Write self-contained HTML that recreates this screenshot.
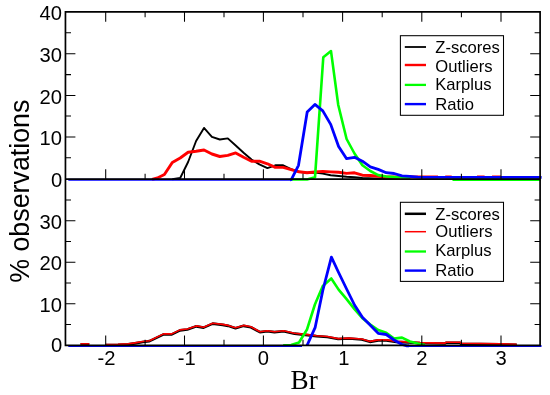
<!DOCTYPE html>
<html><head><meta charset="utf-8"><title>Br distribution</title>
<style>
html,body{margin:0;padding:0;background:#fff}
svg{display:block}
.s{font-family:"Liberation Sans",sans-serif;fill:#000}
.t{font-family:"Liberation Serif",serif;fill:#000}
</style></head><body>
<svg width="550" height="395" viewBox="0 0 550 395">
<rect width="550" height="395" fill="#fff"/>
<g fill="none" stroke-linejoin="round" stroke-linecap="butt">
<polyline points="172.3,179.2 180.2,178.0 188.1,162.0 196.1,141.0 204.0,127.9 211.9,136.8 219.8,139.5 227.8,138.4 235.7,145.5 243.6,152.7 251.5,159.5 259.4,164.4 267.4,168.1 275.3,165.3 283.2,165.3 291.1,169.2 299.0,171.7 307.0,172.7 314.9,172.6 322.8,173.6 330.7,175.2 338.6,176.0 346.6,176.8 354.5,177.3 362.4,178.0 380.0,178.6 400.0,179.0" stroke="#000" stroke-width="1.9"/>
<polyline points="152.0,179.4 157.4,178.0 164.4,174.5 172.3,162.5 180.2,158.0 188.1,152.3 196.1,151.3 204.0,150.0 211.9,154.0 219.8,156.5 227.8,155.4 235.7,152.9 243.6,157.3 251.5,161.2 259.4,161.2 267.4,163.8 275.3,167.4 283.2,167.4 291.1,169.6 299.0,171.8 307.0,172.7 314.9,172.0 322.8,171.4 330.7,171.9 338.6,172.3 346.6,173.4 354.5,172.8 362.4,175.2 370.3,175.5 378.2,176.3 386.2,177.0 394.1,177.0 402.0,177.0 417.8,176.9 438.0,176.9" stroke="#f00" stroke-width="2.9"/>
<path d="M445.2 176.9H451.7M477 176.9H484.6M492 176.9H501" stroke="#f00" stroke-width="2.7"/>
<polyline points="291.5,179.5 307.0,179.5 315.0,177.3 323.3,57.2 331.0,51.1 338.2,104.7 346.6,139.0 354.5,153.5 362.4,165.3 370.3,171.0 378.2,175.1 386.2,176.5 397.7,177.3 410.3,177.6" stroke="#0f0" stroke-width="2.6"/>
<path d="M452.5 179.6H540.5" stroke="#0f0" stroke-width="2.6"/>
<path d="M68.3 179.85H291" stroke="#00f" stroke-width="2.0"/>
<polyline points="290.0,179.9 291.3,179.7 298.5,165.3 307.2,111.9 314.9,104.4 322.8,110.9 330.7,124.4 338.6,146.5 346.6,158.7 354.5,157.3 362.4,161.2 370.3,166.9 378.2,169.4 386.2,172.7 394.1,173.5 402.0,175.9 409.9,176.4 417.8,177.2 425.7,177.4 541.6,177.4" stroke="#00f" stroke-width="2.8"/>
<polyline points="80.5,344.0 89.3,344.0" stroke="#000" stroke-width="2.6" transform="translate(0,0.35)"/>
<polyline points="80.5,344.0 89.3,344.0" stroke="#f00" stroke-width="1.6" transform="translate(0,-0.1)"/>
<polyline points="105.5,344.7 118.0,344.5 128.2,344.0 135.0,343.0 142.7,341.6 149.5,340.8 163.6,334.0 171.8,334.0 180.0,330.0 187.3,329.1 196.4,326.0 203.6,327.3 212.7,323.3 222.7,324.5 228.2,325.5 235.5,327.8 243.6,325.5 250.9,326.9 260.0,331.8 267.3,330.9 274.5,331.8 283.6,330.9 294.5,333.3 305.5,334.5 316.4,335.8 327.3,336.6 338.2,338.7 349.0,338.2 361.8,339.1 370.0,341.5 378.2,340.0 386.4,340.0 396.4,341.5 420.0,342.7 445.0,343.2 446.0,342.4 460.0,342.4 461.0,343.4 500.0,344.0 516.7,344.4" stroke="#000" stroke-width="2.6" transform="translate(0,0.35)"/>
<polyline points="105.5,344.7 118.0,344.5 128.2,344.0 135.0,343.0 142.7,341.6 149.5,340.8 163.6,334.0 171.8,334.0 180.0,330.0 187.3,329.1 196.4,326.0 203.6,327.3 212.7,323.3 222.7,324.5 228.2,325.5 235.5,327.8 243.6,325.5 250.9,326.9 260.0,331.8 267.3,330.9 274.5,331.8 283.6,330.9 294.5,333.3 305.5,334.5 316.4,335.8 327.3,336.6 338.2,338.7 349.0,338.2 361.8,339.1 370.0,341.5 378.2,340.0 386.4,340.0 396.4,341.5 420.0,342.7 445.0,343.2 446.0,342.4 460.0,342.4 461.0,343.4 500.0,344.0 516.7,344.4" stroke="#f00" stroke-width="1.6" transform="translate(0,-0.1)"/>
<polyline points="283.2,345.4 291.1,345.0 299.0,342.5 307.0,329.5 314.9,304.5 322.8,286.0 331.3,278.5 338.6,289.6 346.6,299.1 354.5,309.1 362.4,318.2 370.3,324.5 378.2,330.0 386.2,332.7 394.1,338.6 402.0,337.6 409.9,341.5 417.8,343.6 425.0,345.0" stroke="#0f0" stroke-width="2.6"/>
<path d="M68.3 345.9H302M408 345.9H541.5" stroke="#00f" stroke-width="2.0"/>
<polyline points="307.0,345.5 315.2,327.3 322.8,290.5 331.4,257.2 338.6,272.5 346.6,289.0 354.5,305.0 362.4,317.3 370.3,325.2 378.2,333.3 386.2,334.5 394.1,340.0 402.0,344.5 407.0,345.9 409.0,345.9" stroke="#00f" stroke-width="2.8"/>
</g>
<g stroke="#000" fill="none">
<path d="M65.45 11.85H540.10V345.30H65.45ZM65.45 179.20H540.10" stroke-width="1.7" stroke-linejoin="miter"/>
<path d="M105.7 11.8v9.9M105.7 179.2v-9.9M145.1 11.8v5.5M145.1 179.2v-5.5M184.5 11.8v9.9M184.5 179.2v-9.9M224.0 11.8v5.5M224.0 179.2v-5.5M263.4 11.8v9.9M263.4 179.2v-9.9M303.0 11.8v5.5M303.0 179.2v-5.5M342.6 11.8v9.9M342.6 179.2v-9.9M382.2 11.8v5.5M382.2 179.2v-5.5M421.8 11.8v9.9M421.8 179.2v-9.9M461.4 11.8v5.5M461.4 179.2v-5.5M501.0 11.8v9.9M501.0 179.2v-9.9M65.5 157.8h5.5M540.1 157.8h-5.5M65.5 136.9h9.9M540.1 136.9h-9.9M65.5 115.9h5.5M540.1 115.9h-5.5M65.5 95.5h9.9M540.1 95.5h-9.9M65.5 74.6h5.5M540.1 74.6h-5.5M65.5 53.7h9.9M540.1 53.7h-9.9M65.5 32.8h5.5M540.1 32.8h-5.5M105.7 345.3v-9.9M145.1 345.3v-5.5M184.5 345.3v-9.9M224.0 345.3v-5.5M263.4 345.3v-9.9M303.0 345.3v-5.5M342.6 345.3v-9.9M382.2 345.3v-5.5M421.8 345.3v-9.9M461.4 345.3v-5.5M501.0 345.3v-9.9M65.5 324.5h5.5M540.1 324.5h-5.5M65.5 303.8h9.9M540.1 303.8h-9.9M65.5 283.0h5.5M540.1 283.0h-5.5M65.5 262.2h9.9M540.1 262.2h-9.9M65.5 241.5h5.5M540.1 241.5h-5.5M65.5 220.7h9.9M540.1 220.7h-9.9M65.5 200.0h5.5M540.1 200.0h-5.5" stroke-width="1.05"/>
</g>
<rect x="400.4" y="35.7" width="103.1" height="79.6" fill="#fff" stroke="#000" stroke-width="1.05"/>
<line x1="404.8" x2="426.0" y1="47.0" y2="47.0" stroke="#000" stroke-width="1.8"/>
<text x="435.3" y="52.7" font-size="16.6" class="s">Z-scores</text>
<line x1="404.8" x2="426.0" y1="65.0" y2="65.0" stroke="#f00" stroke-width="2.4"/>
<text x="435.3" y="72.0" font-size="16.6" class="s">Outliers</text>
<line x1="404.8" x2="426.0" y1="84.9" y2="84.9" stroke="#0f0" stroke-width="2.3"/>
<text x="435.3" y="89.7" font-size="16.6" class="s">Karplus</text>
<line x1="404.8" x2="426.0" y1="104.1" y2="104.1" stroke="#00f" stroke-width="2.4"/>
<text x="435.3" y="110.3" font-size="16.6" class="s">Ratio</text>
<rect x="400.4" y="202.3" width="103.1" height="79.1" fill="#fff" stroke="#000" stroke-width="1.05"/>
<line x1="404.8" x2="426.0" y1="213.8" y2="213.8" stroke="#000" stroke-width="2.5"/>
<text x="435.3" y="219.5" font-size="16.6" class="s">Z-scores</text>
<line x1="404.8" x2="426.0" y1="231.7" y2="231.7" stroke="#f00" stroke-width="1.5"/>
<text x="435.3" y="237.4" font-size="16.6" class="s">Outliers</text>
<line x1="404.8" x2="426.0" y1="251.5" y2="251.5" stroke="#0f0" stroke-width="2.3"/>
<text x="435.3" y="255.9" font-size="16.6" class="s">Karplus</text>
<line x1="404.8" x2="426.0" y1="270.6" y2="270.6" stroke="#00f" stroke-width="2.4"/>
<text x="435.3" y="276.4" font-size="16.6" class="s">Ratio</text>
<text x="62.0" y="20.0" font-size="20.2" text-anchor="end" class="s">40</text>
<text x="62.0" y="61.9" font-size="20.2" text-anchor="end" class="s">30</text>
<text x="62.0" y="103.7" font-size="20.2" text-anchor="end" class="s">20</text>
<text x="62.0" y="144.6" font-size="20.2" text-anchor="end" class="s">10</text>
<text x="62.3" y="186.5" font-size="20.2" text-anchor="end" class="s">0</text>
<text x="62.0" y="228.9" font-size="20.2" text-anchor="end" class="s">30</text>
<text x="62.0" y="270.4" font-size="20.2" text-anchor="end" class="s">20</text>
<text x="62.0" y="312.0" font-size="20.2" text-anchor="end" class="s">10</text>
<text x="62.3" y="352.4" font-size="20.2" text-anchor="end" class="s">0</text>
<text x="106.4" y="364.8" font-size="20.2" text-anchor="middle" class="s">-2</text>
<text x="186.8" y="364.8" font-size="20.2" text-anchor="middle" class="s">-1</text>
<text x="263.4" y="364.8" font-size="20.2" text-anchor="middle" class="s">0</text>
<text x="343.8" y="364.8" font-size="20.2" text-anchor="middle" class="s">1</text>
<text x="421.8" y="364.8" font-size="20.2" text-anchor="middle" class="s">2</text>
<text x="501.0" y="364.8" font-size="20.2" text-anchor="middle" class="s">3</text>
<text transform="translate(28.9,282.8) rotate(-90)" font-size="26.8" class="s">% observations</text>
<text x="290.5" y="389.0" font-size="27.2" class="t">Br</text>
</svg>
</body></html>
